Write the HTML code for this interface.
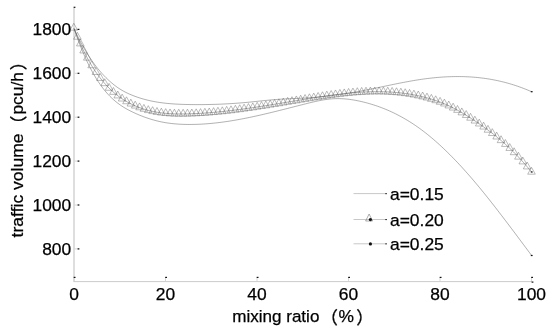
<!DOCTYPE html>
<html lang="en"><head><meta charset="utf-8"><title>traffic volume vs mixing ratio</title>
<style>
html,body{margin:0;padding:0;background:#fff}
body{width:550px;height:329px;overflow:hidden}
svg{display:block}
text{font-family:"Liberation Sans","Noto Sans CJK SC",sans-serif;fill:#000;stroke:#000;stroke-width:0.25px}
.t{font-size:17.4px}
</style></head><body>
<svg width="550" height="329" viewBox="0 0 550 329">
<rect width="550" height="329" fill="#fff"/>
<g stroke="#cdcdcd" stroke-width="1.3" fill="none"><path d="M74 8V281.5"/><path d="M73.4 281.6H532" stroke="#c2c2c2" stroke-width="0.85"/></g>
<g stroke="#d8d8d8" stroke-width="1" fill="none"><path d="M74 29.4H79"/><path d="M74 73.3H79"/><path d="M74 117.2H79"/><path d="M74 161.1H79"/><path d="M74 205.0H79"/><path d="M74 248.9H79"/><path d="M74.0 281V277"/><path d="M165.5 281V277"/><path d="M257.0 281V277"/><path d="M348.5 281V277"/><path d="M440.0 281V277"/><path d="M531.5 281V277"/></g>
<g fill="#111"><rect x="77.6" y="28.8" width="1.8" height="1.2"/><rect x="77.6" y="72.7" width="1.8" height="1.2"/><rect x="77.6" y="116.6" width="1.8" height="1.2"/><rect x="77.6" y="160.5" width="1.8" height="1.2"/><rect x="77.6" y="204.4" width="1.8" height="1.2"/><rect x="77.6" y="248.3" width="1.8" height="1.2"/><rect x="73.7" y="276.8" width="1.8" height="1.2"/><rect x="165.2" y="276.8" width="1.8" height="1.2"/><rect x="256.7" y="276.8" width="1.8" height="1.2"/><rect x="348.2" y="276.8" width="1.8" height="1.2"/><rect x="439.7" y="276.8" width="1.8" height="1.2"/><rect x="531.2" y="276.8" width="1.8" height="1.2"/><rect x="73.6" y="6.7" width="1.8" height="1.2"/><rect x="531.6" y="281.5" width="1.8" height="1.2"/></g>
<g fill="none" stroke="#484848" stroke-width="0.43" stroke-linejoin="round">
<path d="M74 28.5 L76 34.26 L78 39.75 L79.99 44.97 L81.99 49.94 L83.99 54.65 L85.99 59.13 L87.98 63.36 L89.98 67.37 L91.98 71.16 L93.98 74.73 L95.98 78.08 L97.97 81.24 L99.97 84.2 L101.97 86.97 L103.97 89.56 L105.97 91.98 L107.96 94.23 L109.96 96.32 L111.96 98.27 L113.96 100.08 L115.95 101.76 L117.95 103.32 L119.95 104.78 L121.95 106.13 L123.95 107.39 L125.94 108.58 L127.94 109.69 L129.94 110.73 L131.94 111.73 L133.93 112.68 L135.93 113.59 L137.93 114.46 L139.93 115.3 L141.93 116.1 L143.92 116.86 L145.92 117.58 L147.92 118.26 L149.92 118.91 L151.91 119.52 L153.91 120.09 L155.91 120.63 L157.91 121.12 L159.91 121.58 L161.9 122 L163.9 122.38 L165.9 122.72 L167.9 123.03 L169.9 123.31 L171.89 123.55 L173.89 123.76 L175.89 123.93 L177.89 124.09 L179.88 124.21 L181.88 124.31 L183.88 124.38 L185.88 124.43 L187.88 124.46 L189.87 124.46 L191.87 124.45 L193.87 124.42 L195.87 124.37 L197.86 124.3 L199.86 124.22 L201.86 124.11 L203.86 123.99 L205.86 123.86 L207.85 123.7 L209.85 123.54 L211.85 123.35 L213.85 123.15 L215.84 122.94 L217.84 122.71 L219.84 122.46 L221.84 122.21 L223.84 121.94 L225.83 121.65 L227.83 121.36 L229.83 121.05 L231.83 120.73 L233.83 120.39 L235.82 120.05 L237.82 119.7 L239.82 119.33 L241.82 118.96 L243.81 118.57 L245.81 118.18 L247.81 117.77 L249.81 117.36 L251.81 116.94 L253.8 116.51 L255.8 116.08 L257.8 115.64 L259.8 115.19 L261.79 114.73 L263.79 114.27 L265.79 113.8 L267.79 113.33 L269.79 112.85 L271.78 112.37 L273.78 111.88 L275.78 111.39 L277.78 110.89 L279.78 110.4 L281.77 109.9 L283.77 109.39 L285.77 108.89 L287.77 108.38 L289.76 107.87 L291.76 107.36 L293.76 106.85 L295.76 106.34 L297.76 105.83 L299.75 105.33 L301.75 104.82 L303.75 104.31 L305.75 103.81 L307.74 103.3 L309.74 102.81 L311.74 102.33 L313.74 101.86 L315.74 101.41 L317.73 100.98 L319.73 100.58 L321.73 100.2 L323.73 99.85 L325.72 99.54 L327.72 99.27 L329.72 99.04 L331.72 98.86 L333.72 98.73 L335.71 98.64 L337.71 98.61 L339.71 98.63 L341.71 98.7 L343.71 98.81 L345.7 98.97 L347.7 99.17 L349.7 99.41 L351.7 99.69 L353.69 100 L355.69 100.36 L357.69 100.75 L359.69 101.17 L361.69 101.62 L363.68 102.1 L365.68 102.61 L367.68 103.14 L369.68 103.71 L371.67 104.3 L373.67 104.93 L375.67 105.58 L377.67 106.26 L379.67 106.98 L381.66 107.72 L383.66 108.5 L385.66 109.31 L387.66 110.15 L389.66 111.02 L391.65 111.93 L393.65 112.87 L395.65 113.85 L397.65 114.86 L399.64 115.91 L401.64 116.99 L403.64 118.11 L405.64 119.27 L407.64 120.46 L409.63 121.69 L411.63 122.96 L413.63 124.27 L415.63 125.61 L417.62 127 L419.62 128.43 L421.62 129.9 L423.62 131.4 L425.62 132.95 L427.61 134.54 L429.61 136.16 L431.61 137.82 L433.61 139.52 L435.6 141.26 L437.6 143.03 L439.6 144.84 L441.6 146.68 L443.6 148.56 L445.59 150.47 L447.59 152.41 L449.59 154.39 L451.59 156.4 L453.59 158.44 L455.58 160.52 L457.58 162.62 L459.58 164.76 L461.58 166.92 L463.57 169.11 L465.57 171.34 L467.57 173.59 L469.57 175.86 L471.57 178.17 L473.56 180.5 L475.56 182.86 L477.56 185.24 L479.56 187.64 L481.55 190.07 L483.55 192.53 L485.55 195 L487.55 197.49 L489.55 200.01 L491.54 202.54 L493.54 205.08 L495.54 207.65 L497.54 210.22 L499.53 212.82 L501.53 215.42 L503.53 218.04 L505.53 220.66 L507.53 223.3 L509.52 225.94 L511.52 228.6 L513.52 231.26 L515.52 233.92 L517.52 236.59 L519.51 239.26 L521.51 241.93 L523.51 244.61 L525.51 247.29 L527.5 249.96 L529.5 252.63 L531.5 255.3"/>
<path d="M74 28.5 L76 32.82 L78 36.94 L79.99 40.88 L81.99 44.63 L83.99 48.2 L85.99 51.6 L87.98 54.84 L89.98 57.92 L91.98 60.85 L93.98 63.63 L95.98 66.28 L97.97 68.79 L99.97 71.18 L101.97 73.45 L103.97 75.61 L105.97 77.65 L107.96 79.6 L109.96 81.43 L111.96 83.17 L113.96 84.79 L115.95 86.32 L117.95 87.74 L119.95 89.06 L121.95 90.28 L123.95 91.4 L125.94 92.44 L127.94 93.41 L129.94 94.3 L131.94 95.14 L133.93 95.92 L135.93 96.66 L137.93 97.36 L139.93 98.01 L141.93 98.63 L143.92 99.2 L145.92 99.73 L147.92 100.23 L149.92 100.69 L151.91 101.12 L153.91 101.51 L155.91 101.88 L157.91 102.21 L159.91 102.51 L161.9 102.79 L163.9 103.04 L165.9 103.27 L167.9 103.47 L169.9 103.65 L171.89 103.81 L173.89 103.95 L175.89 104.08 L177.89 104.18 L179.88 104.27 L181.88 104.35 L183.88 104.42 L185.88 104.47 L187.88 104.51 L189.87 104.55 L191.87 104.58 L193.87 104.6 L195.87 104.61 L197.86 104.62 L199.86 104.62 L201.86 104.61 L203.86 104.59 L205.86 104.56 L207.85 104.53 L209.85 104.49 L211.85 104.45 L213.85 104.39 L215.84 104.33 L217.84 104.26 L219.84 104.18 L221.84 104.1 L223.84 104 L225.83 103.9 L227.83 103.8 L229.83 103.68 L231.83 103.56 L233.83 103.43 L235.82 103.29 L237.82 103.14 L239.82 102.99 L241.82 102.82 L243.81 102.66 L245.81 102.48 L247.81 102.29 L249.81 102.1 L251.81 101.9 L253.8 101.69 L255.8 101.49 L257.8 101.28 L259.8 101.06 L261.79 100.85 L263.79 100.64 L265.79 100.44 L267.79 100.24 L269.79 100.05 L271.78 99.87 L273.78 99.69 L275.78 99.53 L277.78 99.38 L279.78 99.25 L281.77 99.13 L283.77 99.02 L285.77 98.91 L287.77 98.82 L289.76 98.73 L291.76 98.65 L293.76 98.56 L295.76 98.48 L297.76 98.39 L299.75 98.3 L301.75 98.21 L303.75 98.1 L305.75 97.99 L307.74 97.86 L309.74 97.73 L311.74 97.58 L313.74 97.43 L315.74 97.26 L317.73 97.08 L319.73 96.9 L321.73 96.7 L323.73 96.5 L325.72 96.28 L327.72 96.06 L329.72 95.82 L331.72 95.58 L333.72 95.32 L335.71 95.06 L337.71 94.79 L339.71 94.51 L341.71 94.22 L343.71 93.93 L345.7 93.62 L347.7 93.31 L349.7 92.99 L351.7 92.66 L353.69 92.32 L355.69 91.97 L357.69 91.62 L359.69 91.26 L361.69 90.89 L363.68 90.51 L365.68 90.12 L367.68 89.73 L369.68 89.34 L371.67 88.93 L373.67 88.53 L375.67 88.12 L377.67 87.7 L379.67 87.29 L381.66 86.87 L383.66 86.45 L385.66 86.03 L387.66 85.61 L389.66 85.2 L391.65 84.78 L393.65 84.37 L395.65 83.96 L397.65 83.56 L399.64 83.16 L401.64 82.77 L403.64 82.38 L405.64 82 L407.64 81.63 L409.63 81.27 L411.63 80.91 L413.63 80.57 L415.63 80.24 L417.62 79.92 L419.62 79.61 L421.62 79.31 L423.62 79.03 L425.62 78.76 L427.61 78.51 L429.61 78.27 L431.61 78.04 L433.61 77.83 L435.6 77.64 L437.6 77.45 L439.6 77.29 L441.6 77.14 L443.6 77.01 L445.59 76.89 L447.59 76.79 L449.59 76.71 L451.59 76.65 L453.59 76.6 L455.58 76.57 L457.58 76.56 L459.58 76.57 L461.58 76.6 L463.57 76.64 L465.57 76.71 L467.57 76.8 L469.57 76.9 L471.57 77.03 L473.56 77.17 L475.56 77.34 L477.56 77.53 L479.56 77.74 L481.55 77.97 L483.55 78.23 L485.55 78.5 L487.55 78.8 L489.55 79.12 L491.54 79.47 L493.54 79.84 L495.54 80.23 L497.54 80.65 L499.53 81.09 L501.53 81.55 L503.53 82.04 L505.53 82.56 L507.53 83.1 L509.52 83.67 L511.52 84.26 L513.52 84.88 L515.52 85.53 L517.52 86.2 L519.51 86.9 L521.51 87.63 L523.51 88.39 L525.51 89.17 L527.5 89.98 L529.5 90.82 L531.5 91.7"/>
<path d="M74 28.5 L76 33.59 L78 38.44 L79.99 43.04 L81.99 47.41 L83.99 51.56 L85.99 55.49 L87.98 59.22 L89.98 62.74 L91.98 66.08 L93.98 69.24 L95.98 72.22 L97.97 75.04 L99.97 77.7 L101.97 80.22 L103.97 82.6 L105.97 84.84 L107.96 86.97 L109.96 88.97 L111.96 90.85 L113.96 92.62 L115.95 94.29 L117.95 95.85 L119.95 97.32 L121.95 98.7 L123.95 99.99 L125.94 101.2 L127.94 102.33 L129.94 103.39 L131.94 104.38 L133.93 105.31 L135.93 106.18 L137.93 106.99 L139.93 107.75 L141.93 108.45 L143.92 109.1 L145.92 109.7 L147.92 110.26 L149.92 110.77 L151.91 111.23 L153.91 111.65 L155.91 112.02 L157.91 112.36 L159.91 112.66 L161.9 112.93 L163.9 113.16 L165.9 113.35 L167.9 113.52 L169.9 113.66 L171.89 113.77 L173.89 113.85 L175.89 113.91 L177.89 113.95 L179.88 113.96 L181.88 113.96 L183.88 113.94 L185.88 113.91 L187.88 113.86 L189.87 113.8 L191.87 113.73 L193.87 113.65 L195.87 113.56 L197.86 113.46 L199.86 113.35 L201.86 113.24 L203.86 113.11 L205.86 112.97 L207.85 112.82 L209.85 112.67 L211.85 112.5 L213.85 112.33 L215.84 112.15 L217.84 111.96 L219.84 111.77 L221.84 111.57 L223.84 111.36 L225.83 111.14 L227.83 110.91 L229.83 110.68 L231.83 110.45 L233.83 110.2 L235.82 109.96 L237.82 109.7 L239.82 109.44 L241.82 109.18 L243.81 108.9 L245.81 108.63 L247.81 108.35 L249.81 108.06 L251.81 107.77 L253.8 107.48 L255.8 107.18 L257.8 106.88 L259.8 106.58 L261.79 106.27 L263.79 105.96 L265.79 105.65 L267.79 105.33 L269.79 105.01 L271.78 104.69 L273.78 104.37 L275.78 104.04 L277.78 103.72 L279.78 103.39 L281.77 103.06 L283.77 102.73 L285.77 102.4 L287.77 102.07 L289.76 101.74 L291.76 101.41 L293.76 101.08 L295.76 100.74 L297.76 100.41 L299.75 100.08 L301.75 99.76 L303.75 99.43 L305.75 99.1 L307.74 98.78 L309.74 98.45 L311.74 98.13 L313.74 97.81 L315.74 97.5 L317.73 97.19 L319.73 96.88 L321.73 96.58 L323.73 96.29 L325.72 95.99 L327.72 95.71 L329.72 95.43 L331.72 95.16 L333.72 94.89 L335.71 94.63 L337.71 94.38 L339.71 94.14 L341.71 93.91 L343.71 93.68 L345.7 93.47 L347.7 93.26 L349.7 93.07 L351.7 92.89 L353.69 92.71 L355.69 92.55 L357.69 92.4 L359.69 92.27 L361.69 92.15 L363.68 92.04 L365.68 91.94 L367.68 91.86 L369.68 91.79 L371.67 91.74 L373.67 91.7 L375.67 91.68 L377.67 91.67 L379.67 91.68 L381.66 91.71 L383.66 91.76 L385.66 91.82 L387.66 91.9 L389.66 92 L391.65 92.12 L393.65 92.26 L395.65 92.42 L397.65 92.6 L399.64 92.8 L401.64 93.02 L403.64 93.26 L405.64 93.52 L407.64 93.81 L409.63 94.12 L411.63 94.45 L413.63 94.81 L415.63 95.19 L417.62 95.59 L419.62 96.02 L421.62 96.48 L423.62 96.96 L425.62 97.47 L427.61 98.01 L429.61 98.58 L431.61 99.17 L433.61 99.8 L435.6 100.47 L437.6 101.17 L439.6 101.9 L441.6 102.67 L443.6 103.48 L445.59 104.32 L447.59 105.21 L449.59 106.13 L451.59 107.1 L453.59 108.11 L455.58 109.16 L457.58 110.24 L459.58 111.35 L461.58 112.5 L463.57 113.68 L465.57 114.89 L467.57 116.13 L469.57 117.39 L471.57 118.68 L473.56 119.98 L475.56 121.31 L477.56 122.66 L479.56 124.03 L481.55 125.41 L483.55 126.83 L485.55 128.26 L487.55 129.73 L489.55 131.22 L491.54 132.74 L493.54 134.3 L495.54 135.88 L497.54 137.5 L499.53 139.16 L501.53 140.86 L503.53 142.59 L505.53 144.37 L507.53 146.19 L509.52 148.06 L511.52 149.97 L513.52 151.93 L515.52 153.94 L517.52 156 L519.51 158.11 L521.51 160.28 L523.51 162.51 L525.51 164.79 L527.5 167.13 L529.5 169.53 L531.5 172"/>
<path d="M70 30.18L73.8 23.28L77.6 30.18ZM73.6 39.22L77.4 32.32L81.2 39.22ZM76.5 45.93L80.3 39.03L84.1 45.93ZM79.8 52.97L83.6 46.07L87.4 52.97ZM83.5 60.16L87.3 53.26L91.1 60.16ZM87.85 67.75L91.65 60.85L95.45 67.75ZM92.21 74.47L96.01 67.57L99.81 74.47ZM96.56 80.41L100.36 73.51L104.16 80.41ZM100.92 85.66L104.72 78.76L108.52 85.66ZM105.27 90.29L109.07 83.39L112.87 90.29ZM109.63 94.37L113.43 87.47L117.23 94.37ZM113.98 97.93L117.78 91.03L121.58 97.93ZM118.34 101.03L122.14 94.13L125.94 101.03ZM122.69 103.72L126.49 96.82L130.29 103.72ZM127.05 106.05L130.85 99.15L134.65 106.05ZM131.4 108.07L135.2 101.17L139 108.07ZM135.76 109.81L139.56 102.91L143.36 109.81ZM140.11 111.3L143.91 104.4L147.71 111.3ZM144.47 112.55L148.27 105.65L152.07 112.55ZM148.82 113.58L152.62 106.68L156.42 113.58ZM153.18 114.41L156.98 107.51L160.78 114.41ZM157.53 115.06L161.33 108.16L165.13 115.06ZM161.89 115.53L165.69 108.63L169.49 115.53ZM166.24 115.87L170.04 108.97L173.84 115.87ZM170.6 116.07L174.4 109.17L178.2 116.07ZM174.95 116.16L178.75 109.26L182.55 116.16ZM179.31 116.15L183.11 109.25L186.91 116.15ZM183.66 116.07L187.46 109.17L191.26 116.07ZM188.02 115.94L191.82 109.04L195.62 115.94ZM192.37 115.75L196.17 108.85L199.97 115.75ZM196.73 115.52L200.53 108.62L204.33 115.52ZM201.08 115.24L204.88 108.34L208.68 115.24ZM205.44 114.92L209.24 108.02L213.04 114.92ZM209.79 114.55L213.59 107.65L217.39 114.55ZM214.15 114.15L217.95 107.25L221.75 114.15ZM218.5 113.72L222.3 106.82L226.1 113.72ZM222.86 113.25L226.66 106.35L230.46 113.25ZM227.21 112.75L231.01 105.85L234.81 112.75ZM231.57 112.21L235.37 105.31L239.17 112.21ZM235.92 111.65L239.72 104.75L243.52 111.65ZM240.28 111.07L244.08 104.17L247.88 111.07ZM244.63 110.46L248.43 103.56L252.23 110.46ZM248.99 109.83L252.79 102.93L256.59 109.83ZM253.34 109.18L257.14 102.28L260.94 109.18ZM257.7 108.52L261.5 101.62L265.3 108.52ZM262.05 107.84L265.85 100.94L269.65 107.84ZM266.41 107.14L270.21 100.24L274.01 107.14ZM270.76 106.44L274.56 99.54L278.36 106.44ZM275.12 105.73L278.92 98.83L282.72 105.73ZM279.47 105.01L283.27 98.11L287.07 105.01ZM283.83 104.29L287.63 97.39L291.43 104.29ZM288.18 103.57L291.98 96.67L295.78 103.57ZM292.54 102.85L296.34 95.95L300.14 102.85ZM296.89 102.13L300.69 95.23L304.49 102.13ZM301.25 101.42L305.05 94.52L308.85 101.42ZM305.6 100.71L309.4 93.81L313.2 100.71ZM309.95 100.01L313.75 93.11L317.55 100.01ZM314.31 99.33L318.11 92.43L321.91 99.33ZM318.66 98.67L322.46 91.77L326.26 98.67ZM323.02 98.04L326.82 91.14L330.62 98.04ZM327.37 97.43L331.17 90.53L334.97 97.43ZM331.73 96.86L335.53 89.96L339.33 96.86ZM336.08 96.32L339.88 89.42L343.68 96.32ZM340.44 95.83L344.24 88.93L348.04 95.83ZM344.79 95.38L348.59 88.48L352.39 95.38ZM349.15 94.98L352.95 88.08L356.75 94.98ZM353.5 94.63L357.3 87.73L361.1 94.63ZM357.86 94.35L361.66 87.45L365.46 94.35ZM362.21 94.12L366.01 87.22L369.81 94.12ZM366.57 93.97L370.37 87.07L374.17 93.97ZM370.92 93.89L374.72 86.99L378.52 93.89ZM375.28 93.88L379.08 86.98L382.88 93.88ZM379.63 93.95L383.43 87.05L387.23 93.95ZM383.99 94.11L387.79 87.21L391.59 94.11ZM388.34 94.35L392.14 87.45L395.94 94.35ZM392.7 94.69L396.5 87.79L400.3 94.69ZM397.05 95.13L400.85 88.23L404.65 95.13ZM401.41 95.66L405.21 88.76L409.01 95.66ZM405.76 96.31L409.56 89.41L413.36 96.31ZM410.12 97.06L413.92 90.16L417.72 97.06ZM414.47 97.93L418.27 91.03L422.07 97.93ZM418.83 98.92L422.63 92.02L426.43 98.92ZM423.18 100.03L426.98 93.13L430.78 100.03ZM427.54 101.29L431.34 94.39L435.14 101.29ZM431.89 102.7L435.69 95.8L439.49 102.7ZM436.25 104.27L440.05 97.37L443.85 104.27ZM440.6 106.01L444.4 99.11L448.2 106.01ZM444.96 107.94L448.76 101.04L452.56 107.94ZM449.31 110.07L453.11 103.17L456.91 110.07ZM453.67 112.38L457.47 105.48L461.27 112.38ZM458.02 114.85L461.82 107.95L465.62 114.85ZM462.38 117.46L466.18 110.56L469.98 117.46ZM466.73 120.21L470.53 113.31L474.33 120.21ZM471.09 123.06L474.89 116.16L478.69 123.06ZM475.44 126.01L479.24 119.11L483.04 126.01ZM479.8 129.06L483.6 122.16L487.4 129.06ZM484.15 132.23L487.95 125.33L491.75 132.23ZM488.51 135.53L492.31 128.63L496.11 135.53ZM492.86 138.99L496.66 132.09L500.46 138.99ZM497.22 142.62L501.02 135.72L504.82 142.62ZM501.57 146.43L505.37 139.53L509.17 146.43ZM505.93 150.45L509.73 143.55L513.53 150.45ZM510.28 154.69L514.08 147.79L517.88 154.69ZM514.64 159.17L518.44 152.27L522.24 159.17ZM518.99 163.9L522.79 157L526.59 163.9ZM523.35 168.91L527.15 162.01L530.95 168.91ZM527.7 174.2L531.5 167.3L535.3 174.2Z" stroke="#555" stroke-width="0.4"/>
</g>
<g fill="#111"><rect x="530.8" y="254.9" width="1.8" height="1.2"/><rect x="530.8" y="91.1" width="1.8" height="1.2"/><rect x="530.8" y="171.4" width="1.8" height="1.2"/></g>
<g stroke="#c8c8c8" stroke-width="1" fill="none"><path d="M353.5 193.6H386"/><path d="M353.5 219.5H386"/><path d="M353.5 243.8H386"/></g>
<path d="M365.6 221L369.1 214L372.6 221Z" fill="none" stroke="#777" stroke-width="0.6"/>
<g fill="#111"><circle cx="370.4" cy="219.6" r="1.6"/><circle cx="370.4" cy="243.9" r="1.6"/><rect x="385.4" y="193.1" width="1.4" height="1.1"/><rect x="385.4" y="219" width="1.4" height="1.1"/><rect x="385.4" y="243.3" width="1.4" height="1.1"/></g>
<g class="t">
<text x="390" y="199.9" textLength="53.8" lengthAdjust="spacingAndGlyphs">a=0.15</text><text x="390" y="225.5" textLength="53.8" lengthAdjust="spacingAndGlyphs">a=0.20</text><text x="390" y="250" textLength="53.8" lengthAdjust="spacingAndGlyphs">a=0.25</text>
<text x="71.2" y="35.1" text-anchor="end">1800</text><text x="71.2" y="79.0" text-anchor="end">1600</text><text x="71.2" y="122.9" text-anchor="end">1400</text><text x="71.2" y="166.8" text-anchor="end">1200</text><text x="71.2" y="210.7" text-anchor="end">1000</text><text x="71.2" y="254.6" text-anchor="end">800</text>
<text x="74.0" y="300.3" text-anchor="middle">0</text><text x="165.5" y="300.3" text-anchor="middle">20</text><text x="257.0" y="300.3" text-anchor="middle">40</text><text x="348.5" y="300.3" text-anchor="middle">60</text><text x="440.0" y="300.3" text-anchor="middle">80</text><text x="531.5" y="300.3" text-anchor="middle">100</text>
<text><tspan x="232.2" y="322.3" textLength="87.2" lengthAdjust="spacingAndGlyphs">mixing ratio</tspan><tspan x="320.4" y="324.2">（</tspan><tspan x="338.6" y="322.3">%</tspan><tspan x="356.2" y="324.2">）</tspan></text>
<g transform="translate(23.2 0) rotate(-90)"><text><tspan x="-237.4" y="0" textLength="104" lengthAdjust="spacingAndGlyphs">traffic volume</tspan><tspan x="-133" y="1.9">（</tspan><tspan x="-114.6" y="0">pcu/h</tspan><tspan x="-70.3" y="1.9">）</tspan></text></g>
</g>
</svg>
</body></html>
